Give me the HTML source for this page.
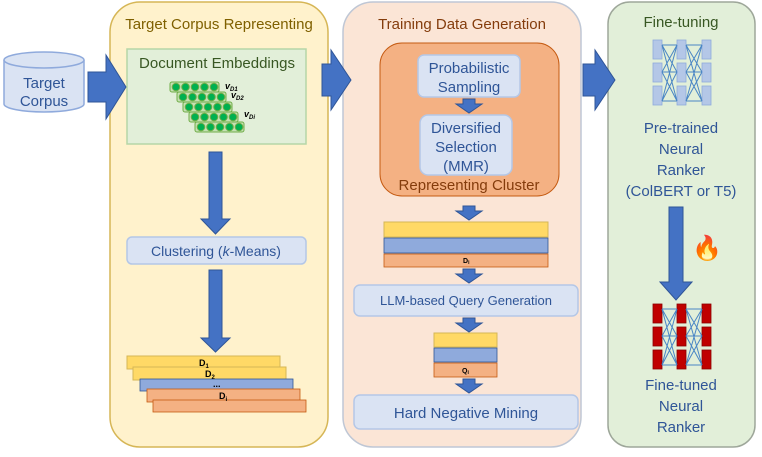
<!DOCTYPE html>
<html><head><meta charset="utf-8"><style>
body{margin:0;background:#fff}
svg{display:block}
text{font-family:"Liberation Sans",sans-serif}
</style></head><body>
<svg width="762" height="457" viewBox="0 0 762 457" xmlns="http://www.w3.org/2000/svg">
<defs>
<g id="links" stroke="#4a86c5" stroke-width="1" fill="none">
<path d="M662 45L677 45M662 101L677 101M686 45L702 45M686 101L702 101"/>
<path d="M662 45L677 72M662 45L677 101M662 72L677 45M662 72L677 101M662 101L677 45M662 101L677 72M662 72L677 72"/>
<path d="M686 45L702 72M686 45L702 101M686 72L702 45M686 72L702 101M686 101L702 45M686 101L702 72M686 72L702 72"/>
</g>
<g id="cols">
<rect x="653" y="40" width="9" height="19"/><rect x="653" y="63" width="9" height="19"/><rect x="653" y="86" width="9" height="19"/>
<rect x="677" y="40" width="9" height="19"/><rect x="677" y="63" width="9" height="19"/><rect x="677" y="86" width="9" height="19"/>
<rect x="702" y="40" width="9" height="19"/><rect x="702" y="63" width="9" height="19"/><rect x="702" y="86" width="9" height="19"/>
</g>
<g id="dots" fill="#00b050" stroke="#70ad47" stroke-width="1">
<rect x="0" y="0" width="49" height="10" rx="2" fill="#c5e0b4"/>
<circle cx="6" cy="5" r="3.8"/><circle cx="15.5" cy="5" r="3.8"/><circle cx="25" cy="5" r="3.8"/><circle cx="34.5" cy="5" r="3.8"/><circle cx="44" cy="5" r="3.8"/>
</g>
</defs>

<!-- cylinder -->
<path d="M4 60 L4 104 A40 8 0 0 0 84 104 L84 60" fill="#dae3f3" stroke="#8faadc" stroke-width="1.5"/>
<ellipse cx="44" cy="60" rx="40" ry="8" fill="#dae3f3" stroke="#8faadc" stroke-width="1.5"/>
<text x="44" y="88" font-size="15" fill="#2f5597" text-anchor="middle">Target</text>
<text x="44" y="106" font-size="15" fill="#2f5597" text-anchor="middle">Corpus</text>

<!-- panel 1 -->
<rect x="110" y="2" width="218" height="445" rx="30" fill="#fff2cc" stroke="#d6b656" stroke-width="1.5"/>
<text x="219" y="29" font-size="15" fill="#7f6000" text-anchor="middle">Target Corpus Representing</text>
<rect x="127" y="49" width="179" height="95" fill="#e2efd9" stroke="#b5d6a7" stroke-width="1.5"/>
<text x="217" y="68" font-size="15" fill="#385723" text-anchor="middle">Document Embeddings</text>
<use href="#dots" x="170" y="82"/><use href="#dots" x="177" y="92"/><use href="#dots" x="183" y="102"/><use href="#dots" x="189" y="112"/><use href="#dots" x="195" y="122"/>
<text x="225" y="89" font-size="9" font-weight="bold" font-style="italic">v<tspan font-size="6" dy="2">D1</tspan></text>
<text x="231" y="98" font-size="9" font-weight="bold" font-style="italic">v<tspan font-size="6" dy="2">D2</tspan></text>
<text x="244" y="117" font-size="9" font-weight="bold" font-style="italic">v<tspan font-size="6" dy="2">Di</tspan></text>
<path d="M209 152H222V219H230L215.5 234L201 219H209Z" fill="#4472c4" stroke="#2f5597"/>
<rect x="127" y="237" width="179" height="27" rx="5" fill="#dae3f3" stroke="#b4c7e7" stroke-width="1.5"/>
<text x="216" y="256" font-size="14" fill="#2f5597" text-anchor="middle">Clustering (<tspan font-style="italic">k</tspan>-Means)</text>
<path d="M209 270H222V338H230L215.5 352L201 338H209Z" fill="#4472c4" stroke="#2f5597"/>
<rect x="127" y="356" width="153" height="13" fill="#ffd966" stroke="#d6b656"/>
<rect x="133" y="367" width="153" height="13" fill="#ffd966" stroke="#d6b656"/>
<rect x="140" y="379" width="153" height="12" fill="#8faadc" stroke="#2f5597" stroke-width=".8"/>
<rect x="147" y="389" width="153" height="13" fill="#f4b183" stroke="#c55a11" stroke-width=".8"/>
<rect x="153" y="400" width="153" height="12" fill="#f4b183" stroke="#c55a11" stroke-width=".8"/>
<text x="199" y="366" font-size="9" font-weight="bold">D<tspan font-size="6" dy="2">1</tspan></text>
<text x="205" y="377" font-size="9" font-weight="bold">D<tspan font-size="6" dy="2">2</tspan></text>
<text x="213" y="387" font-size="9" font-weight="bold">...</text>
<text x="219" y="399" font-size="9" font-weight="bold">D<tspan font-size="6" dy="2">i</tspan></text>

<!-- panel 2 -->
<rect x="343" y="2" width="238" height="445" rx="30" fill="#fbe5d6" stroke="#bfc7d5" stroke-width="1.5"/>
<text x="462" y="29" font-size="15" fill="#843c0c" text-anchor="middle">Training Data Generation</text>
<rect x="380" y="43" width="179" height="153" rx="22" fill="#f4b183" stroke="#c55a11" stroke-width="1"/>
<rect x="418" y="55" width="102" height="42" rx="6" fill="#dae3f3" stroke="#b4c7e7" stroke-width="1.5"/>
<text x="469" y="73" font-size="15" fill="#2f5597" text-anchor="middle">Probabilistic</text>
<text x="469" y="92" font-size="15" fill="#2f5597" text-anchor="middle">Sampling</text>
<path d="M463 99H475V104H482L469 113L456 104H463Z" fill="#4472c4" stroke="#2f5597"/>
<rect x="420" y="115" width="92" height="60" rx="8" fill="#dae3f3" stroke="#b4c7e7" stroke-width="1.5"/>
<text x="466" y="133" font-size="15" fill="#2f5597" text-anchor="middle">Diversified</text>
<text x="466" y="152" font-size="15" fill="#2f5597" text-anchor="middle">Selection</text>
<text x="466" y="171" font-size="15" fill="#2f5597" text-anchor="middle">(MMR)</text>
<text x="469" y="190" font-size="15" fill="#843c0c" text-anchor="middle">Representing Cluster</text>
<path d="M463 206H475V211H482L469 220L456 211H463Z" fill="#4472c4" stroke="#2f5597"/>
<rect x="384" y="222" width="164" height="15" fill="#ffd966" stroke="#d6b656"/>
<rect x="384" y="238" width="164" height="15" fill="#8faadc" stroke="#2f5597" stroke-width=".8"/>
<rect x="384" y="254" width="164" height="13" fill="#f4b183" stroke="#c55a11" stroke-width=".8"/>
<text x="463" y="263" font-size="7" font-weight="bold">D<tspan font-size="5" dy="1">i</tspan></text>
<path d="M463 269H475V274H482L469 283L456 274H463Z" fill="#4472c4" stroke="#2f5597"/>
<rect x="354" y="285" width="224" height="31" rx="6" fill="#dae3f3" stroke="#b4c7e7" stroke-width="1.5"/>
<text x="466" y="305" font-size="13" fill="#2f5597" text-anchor="middle">LLM-based Query Generation</text>
<path d="M463 318H475V323H482L469 332L456 323H463Z" fill="#4472c4" stroke="#2f5597"/>
<rect x="434" y="333" width="63" height="14" fill="#ffd966" stroke="#d6b656"/>
<rect x="434" y="348" width="63" height="14" fill="#8faadc" stroke="#2f5597" stroke-width=".8"/>
<rect x="434" y="363" width="63" height="14" fill="#f4b183" stroke="#c55a11" stroke-width=".8"/>
<text x="462" y="373" font-size="7" font-weight="bold">Q<tspan font-size="5" dy="1">i</tspan></text>
<path d="M463 379H475V384H482L469 393L456 384H463Z" fill="#4472c4" stroke="#2f5597"/>
<rect x="354" y="395" width="224" height="34" rx="6" fill="#dae3f3" stroke="#b4c7e7" stroke-width="1.5"/>
<text x="466" y="418" font-size="15" fill="#2f5597" text-anchor="middle">Hard Negative Mining</text>

<!-- panel 3 -->
<rect x="608" y="2" width="147" height="445" rx="22" fill="#e2efd9" stroke="#9ea79a" stroke-width="1.5"/>
<text x="681" y="27" font-size="15" fill="#385723" text-anchor="middle">Fine-tuning</text>
<g fill="#b4c7e7" stroke="#8faadc" stroke-width=".8"><use href="#cols"/></g>
<use href="#links"/>
<text x="681" y="133" font-size="15" fill="#2f5597" text-anchor="middle">Pre-trained</text>
<text x="681" y="154" font-size="15" fill="#2f5597" text-anchor="middle">Neural</text>
<text x="681" y="175" font-size="15" fill="#2f5597" text-anchor="middle">Ranker</text>
<text x="681" y="196" font-size="15" fill="#2f5597" text-anchor="middle">(ColBERT or T5)</text>
<path d="M669 207H683V282H692L676 300L660 282H669Z" fill="#4472c4" stroke="#2f5597"/>
<text x="707" y="256" font-size="24" text-anchor="middle">🔥</text>
<g transform="translate(0,264)">
<g fill="#c00000" stroke="#8b0000" stroke-width=".8"><use href="#cols"/></g>
<use href="#links"/>
</g>
<text x="681" y="390" font-size="15" fill="#2f5597" text-anchor="middle">Fine-tuned</text>
<text x="681" y="411" font-size="15" fill="#2f5597" text-anchor="middle">Neural</text>
<text x="681" y="432" font-size="15" fill="#2f5597" text-anchor="middle">Ranker</text>

<!-- big arrows (on top) -->
<path d="M88 72H106V55L126 87L106 119V102H88Z" fill="#4472c4" stroke="#2f5597"/>
<path d="M322 64H331V50L351 80L331 110V96H322Z" fill="#4472c4" stroke="#2f5597"/>
<path d="M583 64H595V50L615 80L595 110V96H583Z" fill="#4472c4" stroke="#2f5597"/>
</svg>
</body></html>
